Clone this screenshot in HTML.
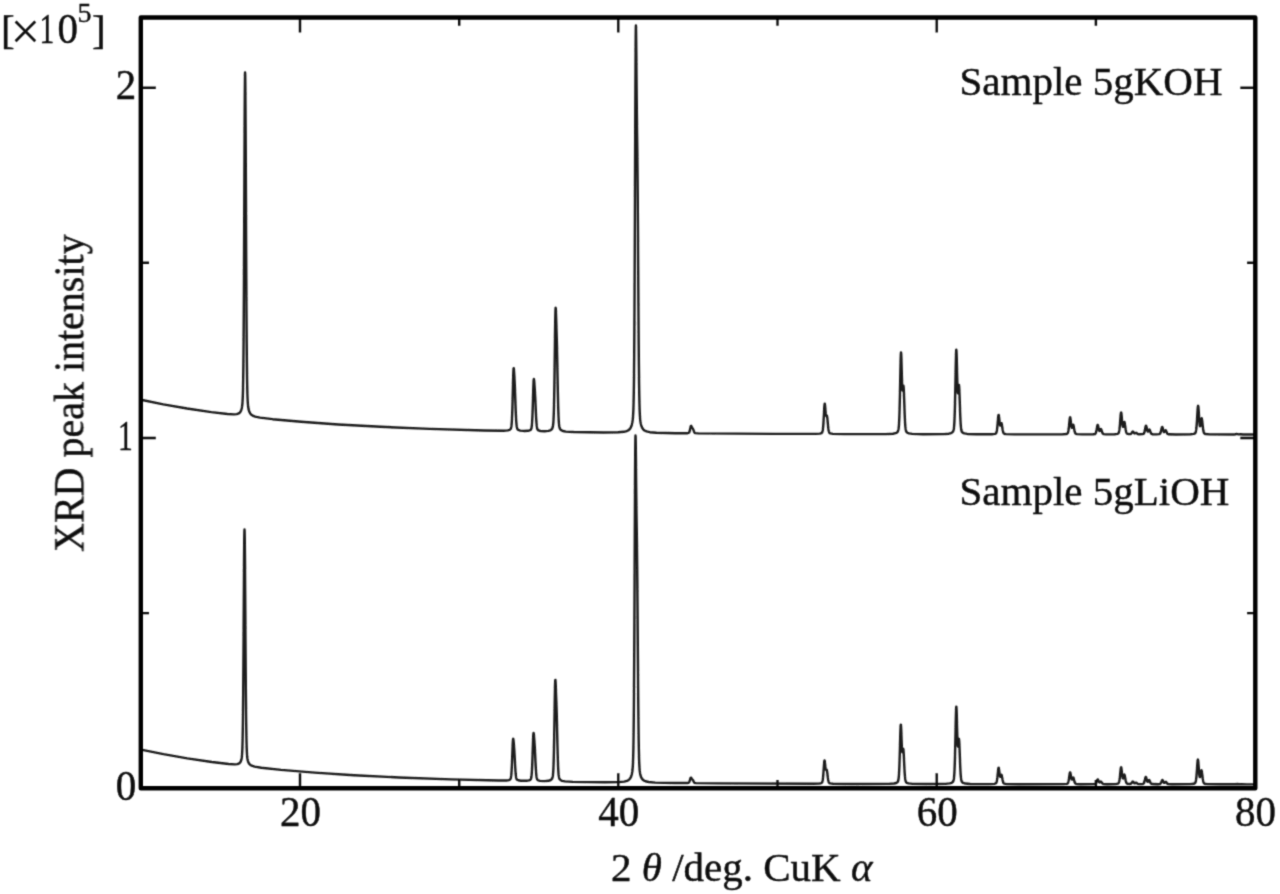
<!DOCTYPE html>
<html><head><meta charset="utf-8"><title>XRD peak intensity</title>
<style>
html,body{margin:0;padding:0;background:#fff;}
body{width:1280px;height:894px;overflow:hidden;}
svg{display:block;}
#w{width:1280px;height:894px;}
text{font-family:"Liberation Serif","Times New Roman",serif;fill:#0a0a0a;stroke:#0a0a0a;stroke-width:0.35px;}
</style></head><body><div id="w">
<svg width="1280" height="894" viewBox="0 0 1280 894">
<defs><filter id="bl" filterUnits="userSpaceOnUse" x="0" y="0" width="1280" height="894"><feConvolveMatrix order="3" kernelMatrix="0.0277 0.1110 0.0277 0.1110 0.4452 0.1110 0.0277 0.1110 0.0277" divisor="1" edgeMode="none"/></filter></defs>
<rect x="0" y="0" width="1280" height="894" fill="#fff"/>
<g filter="url(#bl)">
<g fill="none" stroke="#1a1a1a" stroke-width="2.4" stroke-linejoin="round" stroke-linecap="round">
<path d="M141.00,399.79 L163.30,404.31 L187.10,408.48 L211.30,412.09 L227.50,414.03 L233.90,414.38 L236.90,414.11 L238.70,413.46 L239.80,412.59 L240.60,411.48 L241.20,410.14 L241.60,408.84 L241.90,407.48 L242.10,406.26 L242.30,404.62 L242.40,403.55 L242.50,402.25 L242.60,400.66 L242.70,398.68 L242.80,396.21 L242.90,393.12 L243.00,389.26 L243.10,384.47 L243.20,378.55 L243.30,371.31 L243.40,362.56 L243.50,352.09 L243.60,339.76 L243.70,325.45 L243.80,309.09 L243.90,290.71 L244.00,270.43 L244.10,248.46 L244.20,225.17 L244.30,201.04 L244.40,176.72 L244.50,153.00 L244.60,130.77 L244.70,111.02 L244.80,94.68 L244.90,82.53 L245.00,75.07 L245.10,72.50 L245.20,74.73 L245.30,81.49 L245.40,92.38 L245.50,106.94 L245.60,124.63 L245.70,144.83 L245.80,166.81 L245.90,189.81 L246.00,213.09 L246.10,235.97 L246.20,257.92 L246.30,278.51 L246.40,297.46 L246.50,314.59 L246.60,329.82 L246.70,343.16 L246.80,354.69 L246.90,364.52 L247.00,372.79 L247.10,379.68 L247.20,385.36 L247.30,390.01 L247.40,393.79 L247.50,396.84 L247.60,399.31 L247.70,401.31 L247.80,402.93 L247.90,404.26 L248.00,405.36 L248.20,407.06 L248.50,408.85 L248.90,410.49 L249.40,411.91 L250.10,413.28 L251.10,414.51 L252.60,415.61 L255.10,416.60 L260.00,417.63 L272.60,419.18 L301.20,421.78 L338.20,424.44 L380.80,426.81 L429.90,428.86 L484.00,430.47 L503.50,430.73 L507.80,430.41 L509.60,429.84 L510.50,429.11 L510.90,428.39 L511.20,427.37 L511.40,426.23 L511.50,425.46 L511.60,424.51 L511.70,423.36 L511.80,421.98 L511.90,420.34 L512.00,418.40 L512.10,416.16 L512.20,413.59 L512.30,410.69 L512.40,407.47 L512.50,403.95 L512.60,400.18 L512.80,392.10 L513.00,383.91 L513.10,380.06 L513.20,376.57 L513.30,373.56 L513.40,371.16 L513.50,369.46 L513.60,368.48 L513.70,368.20 L513.80,368.53 L513.90,369.36 L514.00,370.57 L514.10,372.04 L514.30,375.43 L514.60,381.10 L514.80,385.43 L514.90,387.85 L515.10,393.22 L515.50,404.86 L515.70,410.30 L515.80,412.79 L515.90,415.08 L516.00,417.17 L516.10,419.05 L516.20,420.72 L516.30,422.18 L516.40,423.45 L516.50,424.54 L516.70,426.23 L516.90,427.41 L517.20,428.51 L517.60,429.28 L518.40,429.97 L520.10,430.57 L523.80,430.93 L527.90,430.80 L529.80,430.33 L530.70,429.71 L531.10,429.11 L531.40,428.24 L531.60,427.27 L531.80,425.81 L531.90,424.83 L532.00,423.66 L532.10,422.27 L532.20,420.64 L532.30,418.74 L532.40,416.58 L532.50,414.14 L532.60,411.44 L532.70,408.49 L532.80,405.34 L533.20,391.82 L533.30,388.65 L533.40,385.78 L533.50,383.32 L533.60,381.38 L533.70,380.02 L533.80,379.27 L533.90,379.10 L534.00,379.43 L534.10,380.18 L534.20,381.23 L534.40,383.85 L534.80,389.75 L535.00,393.02 L535.20,396.82 L535.40,401.19 L535.80,410.61 L536.00,414.98 L536.20,418.78 L536.30,420.44 L536.40,421.93 L536.50,423.25 L536.70,425.40 L536.90,426.96 L537.10,428.07 L537.40,429.10 L537.80,429.82 L538.60,430.44 L540.50,430.98 L544.60,431.21 L548.40,430.90 L550.30,430.31 L551.50,429.45 L552.20,428.49 L552.60,427.54 L552.90,426.34 L553.10,425.06 L553.20,424.20 L553.30,423.14 L553.40,421.84 L553.50,420.24 L553.60,418.28 L553.70,415.92 L553.80,413.08 L553.90,409.72 L554.00,405.77 L554.10,401.21 L554.20,396.01 L554.30,390.16 L554.40,383.70 L554.50,376.66 L554.60,369.14 L554.70,361.25 L554.90,345.03 L555.00,337.11 L555.10,329.65 L555.20,322.92 L555.30,317.21 L555.40,312.74 L555.50,309.67 L555.60,308.05 L555.70,307.80 L555.80,308.76 L555.90,310.67 L556.00,313.29 L556.10,316.35 L556.70,336.53 L556.80,340.09 L556.90,343.92 L557.00,348.10 L557.10,352.65 L557.20,357.57 L557.30,362.78 L557.60,379.15 L557.70,384.50 L557.80,389.64 L557.90,394.50 L558.00,399.03 L558.10,403.20 L558.20,406.98 L558.30,410.36 L558.40,413.34 L558.50,415.94 L558.60,418.19 L558.70,420.10 L558.80,421.71 L558.90,423.06 L559.00,424.18 L559.10,425.10 L559.30,426.50 L559.50,427.45 L559.80,428.38 L560.30,429.29 L561.20,430.19 L562.80,430.99 L565.80,431.59 L573.80,432.06 L603.60,432.48 L618.20,432.31 L623.80,431.81 L626.80,431.06 L628.60,430.12 L629.80,429.00 L630.70,427.65 L631.30,426.31 L631.80,424.76 L632.20,423.07 L632.50,421.37 L632.70,419.90 L632.90,417.99 L633.00,416.79 L633.10,415.36 L633.20,413.65 L633.30,411.57 L633.40,409.03 L633.50,405.92 L633.60,402.09 L633.70,397.41 L633.80,391.68 L633.90,384.74 L634.00,376.38 L634.10,366.42 L634.20,354.67 L634.30,341.00 L634.40,325.28 L634.50,307.47 L634.60,287.59 L634.70,265.74 L634.80,242.13 L634.90,217.06 L635.00,190.95 L635.10,164.35 L635.20,137.92 L635.30,112.41 L635.40,88.69 L635.50,67.67 L635.60,50.25 L635.70,37.15 L635.80,28.86 L635.90,25.50 L636.00,26.78 L636.10,32.06 L636.20,40.46 L636.30,51.04 L636.40,62.84 L636.50,75.05 L636.60,87.02 L636.70,98.28 L636.80,108.58 L636.90,117.83 L637.00,126.17 L637.10,133.88 L637.20,141.39 L637.30,149.21 L637.40,157.84 L637.50,167.70 L637.60,179.05 L637.70,191.94 L637.80,206.24 L637.90,221.66 L638.00,237.86 L638.20,271.05 L638.30,287.35 L638.40,303.05 L638.50,317.94 L638.60,331.83 L638.70,344.60 L638.80,356.17 L638.90,366.50 L639.00,375.61 L639.10,383.54 L639.20,390.37 L639.30,396.18 L639.40,401.07 L639.50,405.17 L639.60,408.57 L639.70,411.38 L639.80,413.70 L639.90,415.62 L640.00,417.20 L640.10,418.52 L640.20,419.63 L640.40,421.38 L640.70,423.26 L641.10,425.00 L641.60,426.55 L642.30,428.06 L643.20,429.34 L644.50,430.47 L646.50,431.44 L649.80,432.19 L656.40,432.78 L675.10,433.23 L687.20,433.21 L688.60,432.93 L689.10,432.45 L689.50,431.61 L689.90,430.18 L690.60,426.89 L690.90,425.97 L691.10,425.80 L691.40,426.16 L692.10,427.75 L692.90,428.68 L693.40,429.91 L694.10,431.84 L694.60,432.67 L695.30,433.13 L698.50,433.41 L775.20,433.92 L815.50,433.92 L819.90,433.60 L821.50,433.08 L822.10,432.46 L822.40,431.76 L822.60,431.01 L822.80,429.92 L823.00,428.37 L823.20,426.29 L823.40,423.61 L823.60,420.36 L823.90,414.71 L824.10,410.83 L824.20,409.02 L824.30,407.37 L824.40,405.96 L824.50,404.84 L824.60,404.08 L824.70,403.70 L824.80,403.72 L824.90,404.11 L825.00,404.83 L825.10,405.81 L825.30,408.25 L825.60,412.03 L825.70,413.10 L825.80,414.00 L825.90,414.72 L826.00,415.26 L826.10,415.62 L826.30,415.86 L826.70,415.51 L826.90,415.67 L827.00,415.99 L827.10,416.47 L827.30,417.94 L827.50,419.91 L828.00,425.43 L828.30,428.21 L828.50,429.67 L828.80,431.23 L829.10,432.20 L829.50,432.89 L830.30,433.41 L832.90,433.85 L844.10,434.11 L886.00,434.09 L893.00,433.74 L895.60,433.19 L897.00,432.43 L897.70,431.65 L898.10,430.81 L898.40,429.70 L898.60,428.51 L898.70,427.71 L898.80,426.75 L898.90,425.58 L899.00,424.17 L899.10,422.49 L899.20,420.51 L899.30,418.19 L899.40,415.51 L899.50,412.44 L899.60,408.98 L899.70,405.12 L899.80,400.88 L899.90,396.31 L900.00,391.44 L900.20,381.16 L900.40,370.89 L900.50,366.10 L900.60,361.79 L900.70,358.11 L900.80,355.25 L900.90,353.35 L901.00,352.50 L901.10,352.72 L901.20,353.97 L901.30,356.11 L901.40,359.00 L901.50,362.43 L901.70,370.09 L901.80,373.96 L901.90,377.63 L902.00,380.98 L902.10,383.90 L902.20,386.33 L902.30,388.21 L902.40,389.54 L902.50,390.32 L902.60,390.59 L902.70,390.42 L902.80,389.89 L903.00,388.18 L903.20,386.47 L903.30,385.94 L903.40,385.80 L903.50,386.12 L903.60,386.95 L903.70,388.29 L903.80,390.11 L903.90,392.33 L904.00,394.87 L904.20,400.55 L904.50,409.35 L904.60,412.10 L904.70,414.69 L904.80,417.08 L904.90,419.26 L905.00,421.21 L905.10,422.95 L905.20,424.47 L905.30,425.79 L905.40,426.92 L905.60,428.69 L905.80,429.93 L906.10,431.10 L906.50,431.95 L907.30,432.73 L908.90,433.41 L912.30,433.91 L923.10,434.20 L943.60,434.10 L948.90,433.71 L951.20,433.09 L952.40,432.33 L953.00,431.59 L953.40,430.70 L953.70,429.49 L953.90,428.20 L954.00,427.35 L954.10,426.31 L954.20,425.06 L954.30,423.56 L954.40,421.77 L954.50,419.67 L954.60,417.22 L954.70,414.39 L954.80,411.17 L954.90,407.55 L955.00,403.53 L955.10,399.13 L955.20,394.39 L955.30,389.36 L955.60,373.45 L955.70,368.26 L955.80,363.39 L955.90,359.01 L956.00,355.29 L956.10,352.42 L956.20,350.54 L956.30,349.75 L956.40,350.07 L956.50,351.45 L956.60,353.78 L956.70,356.89 L956.80,360.59 L956.90,364.67 L957.10,373.21 L957.20,377.32 L957.30,381.13 L957.40,384.53 L957.50,387.44 L957.60,389.78 L957.70,391.53 L957.80,392.69 L957.90,393.26 L958.00,393.30 L958.10,392.85 L958.20,392.02 L958.30,390.89 L958.60,386.94 L958.70,385.88 L958.80,385.17 L958.90,384.90 L959.00,385.15 L959.10,385.96 L959.20,387.31 L959.30,389.16 L959.40,391.43 L959.50,394.03 L959.70,399.84 L960.00,408.81 L960.10,411.62 L960.20,414.25 L960.30,416.69 L960.40,418.92 L960.50,420.92 L960.60,422.70 L960.70,424.26 L960.80,425.61 L960.90,426.77 L961.10,428.59 L961.30,429.87 L961.60,431.09 L962.00,431.96 L962.70,432.70 L964.20,433.41 L967.30,433.94 L976.40,434.26 L991.90,434.20 L995.00,433.85 L995.80,433.46 L996.20,432.94 L996.50,432.20 L996.80,430.93 L997.00,429.70 L997.20,428.11 L997.40,426.16 L997.70,422.71 L998.10,417.98 L998.30,416.14 L998.40,415.49 L998.50,415.07 L998.60,414.90 L998.70,414.98 L998.80,415.31 L998.90,415.86 L999.10,417.47 L999.60,422.40 L999.80,423.99 L1000.00,425.08 L1000.20,425.61 L1000.40,425.63 L1000.60,425.21 L1001.10,423.50 L1001.30,423.12 L1001.50,423.21 L1001.70,423.81 L1002.00,425.46 L1002.60,429.46 L1002.90,431.07 L1003.20,432.22 L1003.60,433.15 L1004.20,433.75 L1005.90,434.13 L1014.40,434.38 L1062.00,434.36 L1066.20,434.05 L1067.30,433.62 L1067.80,432.96 L1068.10,432.14 L1068.40,430.79 L1068.70,428.78 L1069.00,426.10 L1069.60,419.92 L1069.80,418.34 L1069.90,417.79 L1070.00,417.44 L1070.10,417.30 L1070.20,417.39 L1070.30,417.69 L1070.40,418.18 L1070.60,419.62 L1071.10,424.19 L1071.30,425.75 L1071.50,426.92 L1071.70,427.62 L1071.90,427.84 L1072.10,427.63 L1072.40,426.73 L1072.80,425.20 L1073.00,424.72 L1073.20,424.63 L1073.40,425.00 L1073.60,425.78 L1074.10,428.61 L1074.50,430.79 L1074.80,432.02 L1075.20,433.08 L1075.70,433.72 L1076.80,434.12 L1082.20,434.39 L1093.20,434.28 L1094.90,433.99 L1095.50,433.48 L1095.90,432.68 L1096.20,431.68 L1096.60,429.77 L1097.20,426.34 L1097.40,425.47 L1097.60,424.97 L1097.80,424.95 L1098.00,425.39 L1098.30,426.69 L1098.80,429.25 L1099.10,430.37 L1099.40,430.93 L1099.70,430.91 L1100.10,430.23 L1100.60,429.17 L1100.90,428.99 L1101.20,429.38 L1101.70,430.85 L1102.30,432.64 L1102.80,433.56 L1103.50,434.08 L1106.00,434.34 L1114.70,434.25 L1117.40,433.88 L1118.20,433.47 L1118.60,432.94 L1118.90,432.19 L1119.20,430.91 L1119.40,429.66 L1119.60,428.03 L1119.80,426.01 L1120.10,422.33 L1120.50,417.00 L1120.70,414.71 L1120.80,413.80 L1120.90,413.11 L1121.00,412.67 L1121.10,412.50 L1121.20,412.62 L1121.30,413.00 L1121.40,413.64 L1121.50,414.48 L1121.70,416.63 L1122.10,421.48 L1122.30,423.60 L1122.50,425.27 L1122.70,426.37 L1122.90,426.87 L1123.10,426.80 L1123.30,426.24 L1123.60,424.79 L1124.00,422.69 L1124.20,422.05 L1124.40,421.94 L1124.60,422.42 L1124.80,423.42 L1125.20,426.25 L1125.60,429.13 L1125.90,430.85 L1126.20,432.09 L1126.50,432.90 L1127.00,433.58 L1128.00,433.99 L1130.20,434.10 L1131.00,433.77 L1131.70,432.92 L1132.50,431.66 L1132.90,431.52 L1133.40,432.05 L1134.20,433.20 L1134.70,433.44 L1135.50,433.03 L1136.10,432.77 L1136.70,433.09 L1137.80,434.02 L1139.10,434.30 L1142.70,434.16 L1143.60,433.76 L1144.10,433.02 L1144.50,431.87 L1144.90,430.11 L1145.50,427.00 L1145.70,426.21 L1145.90,425.76 L1146.10,425.75 L1146.30,426.16 L1146.60,427.35 L1147.20,430.18 L1147.50,431.14 L1147.80,431.59 L1148.10,431.53 L1148.50,430.87 L1149.10,429.63 L1149.40,429.48 L1149.70,429.85 L1150.30,431.50 L1150.90,433.03 L1151.40,433.76 L1152.20,434.18 L1156.20,434.36 L1159.20,434.15 L1159.90,433.79 L1160.40,433.04 L1160.80,431.92 L1161.30,429.86 L1161.80,427.74 L1162.00,427.20 L1162.20,427.00 L1162.40,427.17 L1162.70,428.02 L1163.40,430.84 L1163.70,431.69 L1164.00,432.11 L1164.30,432.10 L1164.70,431.56 L1165.30,430.45 L1165.60,430.23 L1165.90,430.46 L1166.40,431.54 L1167.10,433.15 L1167.70,433.92 L1168.60,434.28 L1175.80,434.47 L1190.60,434.31 L1193.80,433.92 L1194.90,433.46 L1195.40,432.87 L1195.70,432.16 L1196.00,430.93 L1196.20,429.68 L1196.40,428.01 L1196.60,425.85 L1196.80,423.19 L1197.00,420.08 L1197.50,411.53 L1197.60,409.98 L1197.70,408.59 L1197.80,407.44 L1197.90,406.56 L1198.00,406.00 L1198.10,405.80 L1198.20,405.96 L1198.30,406.46 L1198.40,407.29 L1198.50,408.39 L1198.60,409.71 L1198.80,412.78 L1199.20,419.22 L1199.40,421.94 L1199.50,423.09 L1199.60,424.07 L1199.70,424.88 L1199.80,425.51 L1199.90,425.95 L1200.00,426.21 L1200.10,426.30 L1200.30,425.99 L1200.50,425.11 L1200.80,423.04 L1201.20,419.92 L1201.40,418.77 L1201.50,418.41 L1201.60,418.23 L1201.70,418.23 L1201.80,418.44 L1201.90,418.82 L1202.10,420.08 L1202.40,422.74 L1202.80,426.57 L1203.10,429.02 L1203.40,430.87 L1203.70,432.13 L1204.00,432.91 L1204.50,433.57 L1205.60,434.02 L1209.60,434.38 L1233.80,434.51 L1235.40,434.22 L1236.60,433.90 L1238.50,434.38 L1240.60,434.22 L1243.00,434.53 L1253.00,434.56"/>
<path d="M141.00,749.59 L163.40,754.14 L187.30,758.32 L211.90,762.00 L228.70,764.03 L234.80,764.36 L237.50,764.07 L239.00,763.47 L240.00,762.60 L240.70,761.51 L241.20,760.24 L241.50,759.06 L241.70,757.94 L241.90,756.32 L242.00,755.23 L242.10,753.87 L242.20,752.17 L242.30,750.05 L242.40,747.41 L242.50,744.11 L242.60,740.05 L242.70,735.07 L242.80,729.05 L242.90,721.85 L243.00,713.37 L243.10,703.53 L243.20,692.27 L243.30,679.63 L243.40,665.67 L243.50,650.56 L243.60,634.53 L243.80,601.19 L243.90,584.86 L244.00,569.57 L244.10,555.98 L244.20,544.74 L244.30,536.38 L244.40,531.26 L244.50,529.50 L244.60,531.05 L244.70,535.72 L244.80,543.24 L244.90,553.28 L245.00,565.49 L245.10,579.41 L245.20,594.56 L245.30,610.40 L245.40,626.43 L245.50,642.19 L245.60,657.29 L245.70,671.46 L245.80,684.50 L245.90,696.27 L246.00,706.75 L246.10,715.92 L246.20,723.84 L246.30,730.60 L246.40,736.28 L246.50,741.01 L246.60,744.92 L246.70,748.11 L246.80,750.70 L246.90,752.80 L247.00,754.50 L247.10,755.87 L247.20,756.99 L247.40,758.66 L247.60,759.84 L247.90,761.08 L248.40,762.44 L249.10,763.67 L250.10,764.75 L251.70,765.73 L254.60,766.66 L261.30,767.76 L281.10,769.85 L314.60,772.62 L353.90,775.19 L398.90,777.45 L451.00,779.37 L498.30,780.57 L506.60,780.48 L509.00,780.08 L510.00,779.56 L510.50,778.90 L510.80,778.06 L511.00,777.12 L511.20,775.72 L511.30,774.80 L511.40,773.70 L511.50,772.40 L511.60,770.90 L511.70,769.18 L511.80,767.24 L511.90,765.09 L512.00,762.73 L512.20,757.55 L512.50,749.32 L512.60,746.75 L512.70,744.40 L512.80,742.39 L512.90,740.79 L513.00,739.65 L513.10,738.99 L513.20,738.80 L513.30,739.02 L513.40,739.58 L513.50,740.38 L513.70,742.47 L514.00,746.12 L514.20,748.84 L514.40,751.98 L514.60,755.58 L515.10,765.25 L515.30,768.68 L515.50,771.62 L515.70,773.99 L515.90,775.82 L516.10,777.16 L516.30,778.10 L516.60,779.00 L517.10,779.71 L518.20,780.28 L521.00,780.73 L526.40,780.79 L529.00,780.42 L530.20,779.86 L530.70,779.30 L531.00,778.64 L531.20,777.92 L531.40,776.82 L531.60,775.18 L531.70,774.10 L531.80,772.82 L531.90,771.31 L532.00,769.57 L532.10,767.57 L532.20,765.32 L532.30,762.83 L532.40,760.12 L532.60,754.15 L532.90,744.74 L533.00,741.81 L533.10,739.16 L533.20,736.90 L533.30,735.11 L533.40,733.85 L533.50,733.16 L533.60,733.00 L533.70,733.31 L533.80,733.99 L533.90,734.96 L534.10,737.38 L534.50,742.82 L534.70,745.85 L534.90,749.35 L535.10,753.39 L535.50,762.09 L535.70,766.11 L535.90,769.62 L536.10,772.52 L536.30,774.80 L536.50,776.49 L536.70,777.71 L537.00,778.87 L537.40,779.66 L538.20,780.31 L540.10,780.85 L544.40,781.10 L548.40,780.82 L550.30,780.26 L551.40,779.50 L552.10,778.56 L552.50,777.53 L552.70,776.67 L552.90,775.39 L553.00,774.52 L553.10,773.45 L553.20,772.14 L553.30,770.53 L553.40,768.60 L553.50,766.27 L553.60,763.51 L553.70,760.28 L553.80,756.54 L553.90,752.27 L554.00,747.47 L554.10,742.17 L554.20,736.40 L554.30,730.23 L554.40,723.76 L554.60,710.45 L554.70,703.95 L554.80,697.83 L554.90,692.31 L555.00,687.62 L555.10,683.96 L555.20,681.44 L555.30,680.10 L555.40,679.90 L555.50,680.68 L555.60,682.25 L555.70,684.40 L555.80,686.91 L556.40,703.47 L556.50,706.40 L556.60,709.55 L556.70,712.98 L556.80,716.72 L556.90,720.76 L557.00,725.04 L557.40,742.87 L557.50,747.08 L557.60,751.07 L557.70,754.79 L557.80,758.20 L557.90,761.30 L558.00,764.07 L558.10,766.52 L558.20,768.65 L558.30,770.48 L558.40,772.05 L558.50,773.37 L558.60,774.48 L558.80,776.15 L559.00,777.29 L559.30,778.37 L559.70,779.18 L560.50,780.05 L562.00,780.83 L564.90,781.42 L572.90,781.87 L604.80,782.31 L618.90,782.14 L624.20,781.65 L627.00,780.92 L628.70,780.00 L629.80,778.94 L630.60,777.71 L631.20,776.35 L631.70,774.73 L632.00,773.42 L632.30,771.64 L632.50,770.01 L632.60,768.98 L632.70,767.77 L632.80,766.31 L632.90,764.54 L633.00,762.37 L633.10,759.72 L633.20,756.46 L633.30,752.47 L633.40,747.60 L633.50,741.68 L633.60,734.56 L633.70,726.07 L633.80,716.06 L633.90,704.41 L634.00,691.02 L634.10,675.84 L634.20,658.90 L634.30,640.28 L634.40,620.16 L634.50,598.80 L634.60,576.55 L634.80,531.35 L634.90,509.60 L635.00,489.39 L635.10,471.47 L635.20,456.61 L635.30,445.44 L635.40,438.37 L635.50,435.50 L635.60,436.58 L635.70,441.07 L635.80,448.23 L635.90,457.23 L636.00,467.28 L636.10,477.68 L636.20,487.87 L636.30,497.47 L636.40,506.24 L636.50,514.13 L636.60,521.25 L636.70,527.83 L636.80,534.25 L636.90,540.93 L637.00,548.31 L637.10,556.74 L637.20,566.44 L637.30,577.46 L637.40,589.67 L637.50,602.83 L637.60,616.65 L637.80,644.95 L637.90,658.83 L638.00,672.22 L638.10,684.90 L638.20,696.73 L638.30,707.60 L638.40,717.44 L638.50,726.24 L638.60,733.99 L638.70,740.74 L638.80,746.54 L638.90,751.48 L639.00,755.64 L639.10,759.13 L639.20,762.02 L639.30,764.41 L639.40,766.38 L639.50,768.01 L639.60,769.36 L639.70,770.48 L639.90,772.23 L640.10,773.51 L640.40,774.93 L640.90,776.58 L641.50,777.93 L642.40,779.26 L643.60,780.35 L645.50,781.29 L648.70,782.03 L655.20,782.60 L674.70,783.05 L687.40,783.04 L688.60,782.76 L689.10,782.25 L689.50,781.41 L690.00,779.79 L690.50,778.12 L690.80,777.63 L691.10,777.73 L691.90,779.04 L692.80,779.87 L694.00,782.23 L694.60,782.83 L695.90,783.13 L717.60,783.42 L813.30,783.79 L819.60,783.53 L821.30,783.12 L821.90,782.64 L822.30,781.84 L822.60,780.68 L822.80,779.49 L823.00,777.89 L823.20,775.83 L823.40,773.32 L823.80,767.47 L824.00,764.60 L824.10,763.33 L824.20,762.24 L824.30,761.38 L824.40,760.79 L824.50,760.50 L824.60,760.51 L824.70,760.82 L824.80,761.37 L825.00,763.02 L825.40,766.91 L825.60,768.43 L825.80,769.40 L826.00,769.82 L826.30,769.74 L826.60,769.60 L826.80,769.96 L827.00,770.84 L827.20,772.19 L827.90,778.01 L828.20,779.97 L828.50,781.36 L828.80,782.24 L829.20,782.88 L830.00,783.34 L833.00,783.73 L851.90,783.95 L888.60,783.89 L894.20,783.52 L896.30,782.98 L897.40,782.27 L897.90,781.56 L898.20,780.75 L898.40,779.88 L898.60,778.60 L898.70,777.75 L898.80,776.73 L898.90,775.51 L899.00,774.07 L899.10,772.38 L899.20,770.43 L899.30,768.20 L899.40,765.68 L899.50,762.87 L899.60,759.79 L899.70,756.46 L899.90,749.23 L900.20,737.97 L900.30,734.50 L900.40,731.36 L900.50,728.68 L900.60,726.60 L900.70,725.22 L900.80,724.60 L900.90,724.76 L901.00,725.67 L901.10,727.23 L901.20,729.33 L901.30,731.82 L901.60,740.20 L901.70,742.87 L901.80,745.31 L901.90,747.43 L902.00,749.20 L902.10,750.57 L902.20,751.53 L902.30,752.10 L902.40,752.29 L902.50,752.17 L902.60,751.78 L903.00,749.30 L903.10,748.92 L903.20,748.82 L903.30,749.05 L903.40,749.66 L903.50,750.64 L903.60,751.96 L903.70,753.58 L903.80,755.43 L904.00,759.57 L904.30,765.97 L904.50,769.85 L904.70,773.17 L904.80,774.59 L905.00,776.96 L905.20,778.74 L905.40,780.02 L905.70,781.26 L906.10,782.13 L906.80,782.80 L908.50,783.41 L912.60,783.84 L929.90,784.05 L945.60,783.85 L949.80,783.41 L951.70,782.77 L952.70,782.01 L953.20,781.28 L953.50,780.50 L953.70,779.70 L953.90,778.52 L954.00,777.74 L954.10,776.78 L954.20,775.64 L954.30,774.26 L954.40,772.63 L954.50,770.70 L954.60,768.45 L954.70,765.86 L954.80,762.91 L954.90,759.59 L955.00,755.90 L955.10,751.87 L955.20,747.52 L955.30,742.92 L955.60,728.33 L955.70,723.57 L955.80,719.10 L955.90,715.09 L956.00,711.68 L956.10,709.05 L956.20,707.33 L956.30,706.60 L956.40,706.89 L956.50,708.16 L956.60,710.29 L956.70,713.15 L956.80,716.54 L956.90,720.28 L957.10,728.11 L957.20,731.88 L957.30,735.37 L957.40,738.49 L957.50,741.15 L957.60,743.30 L957.70,744.90 L957.80,745.96 L957.90,746.49 L958.00,746.52 L958.10,746.12 L958.20,745.35 L958.30,744.31 L958.60,740.70 L958.70,739.72 L958.80,739.07 L958.90,738.82 L959.00,739.05 L959.10,739.80 L959.20,741.04 L959.30,742.73 L959.40,744.81 L959.50,747.20 L959.70,752.52 L960.00,760.75 L960.20,765.73 L960.30,767.97 L960.40,770.01 L960.50,771.85 L960.60,773.48 L960.70,774.90 L960.80,776.14 L961.00,778.11 L961.20,779.52 L961.40,780.49 L961.70,781.42 L962.20,782.22 L963.20,782.93 L965.30,783.54 L970.40,783.95 L988.80,784.10 L994.40,783.84 L995.70,783.47 L996.20,782.97 L996.50,782.34 L996.80,781.27 L997.10,779.59 L997.40,777.23 L997.80,773.28 L998.10,770.30 L998.30,768.75 L998.40,768.20 L998.50,767.84 L998.60,767.70 L998.70,767.77 L998.80,768.05 L999.00,769.14 L999.30,771.55 L999.60,774.05 L999.80,775.39 L1000.00,776.31 L1000.20,776.77 L1000.40,776.78 L1000.70,776.16 L1001.10,774.98 L1001.30,774.66 L1001.50,774.74 L1001.70,775.24 L1002.00,776.64 L1002.60,780.03 L1002.90,781.39 L1003.20,782.36 L1003.60,783.15 L1004.20,783.65 L1006.20,784.00 L1019.10,784.21 L1063.60,784.16 L1066.90,783.85 L1067.60,783.46 L1068.00,782.87 L1068.30,782.07 L1068.60,780.83 L1068.90,779.11 L1069.60,774.13 L1069.80,773.03 L1070.00,772.40 L1070.20,772.36 L1070.40,772.91 L1070.60,773.92 L1071.20,777.68 L1071.50,779.01 L1071.70,779.50 L1072.00,779.62 L1072.30,779.13 L1072.90,777.61 L1073.20,777.41 L1073.50,777.91 L1073.90,779.36 L1074.50,781.71 L1074.90,782.79 L1075.40,783.53 L1076.20,783.94 L1080.50,784.20 L1094.00,784.14 L1095.30,783.89 L1095.90,783.37 L1096.40,782.41 L1097.30,779.89 L1097.60,779.44 L1097.90,779.51 L1098.30,780.31 L1098.90,781.84 L1099.30,782.41 L1099.70,782.47 L1100.70,781.52 L1101.10,781.59 L1101.80,782.60 L1102.50,783.57 L1103.30,784.03 L1107.10,784.22 L1115.90,784.04 L1117.90,783.67 L1118.50,783.23 L1118.90,782.52 L1119.20,781.53 L1119.50,779.97 L1119.80,777.74 L1120.10,774.90 L1120.50,770.78 L1120.70,769.01 L1120.80,768.30 L1120.90,767.77 L1121.00,767.43 L1121.10,767.30 L1121.20,767.39 L1121.30,767.69 L1121.40,768.18 L1121.60,769.61 L1122.20,775.10 L1122.40,776.58 L1122.60,777.65 L1122.80,778.27 L1123.00,778.43 L1123.20,778.18 L1123.50,777.22 L1124.00,775.17 L1124.20,774.68 L1124.40,774.59 L1124.60,774.97 L1124.90,776.23 L1125.60,780.15 L1125.90,781.48 L1126.30,782.68 L1126.80,783.44 L1127.70,783.85 L1130.10,783.98 L1131.00,783.65 L1131.70,782.85 L1132.50,781.65 L1132.90,781.52 L1133.40,782.02 L1134.20,783.10 L1134.70,783.32 L1135.50,782.94 L1136.10,782.69 L1136.70,783.00 L1137.80,783.87 L1139.10,784.13 L1142.70,783.98 L1143.50,783.60 L1144.00,782.87 L1144.40,781.77 L1144.90,779.73 L1145.40,777.63 L1145.70,776.95 L1145.90,776.94 L1146.20,777.57 L1147.00,780.67 L1147.30,781.48 L1147.60,781.86 L1147.90,781.81 L1148.40,781.06 L1148.90,780.21 L1149.20,780.09 L1149.50,780.40 L1150.60,782.91 L1151.20,783.69 L1152.10,784.06 L1157.70,784.20 L1159.90,783.98 L1160.60,783.47 L1161.10,782.62 L1162.00,780.42 L1162.30,780.03 L1162.60,780.10 L1163.00,780.81 L1163.70,782.39 L1164.10,782.88 L1164.60,782.88 L1165.70,781.87 L1166.10,781.99 L1167.40,783.63 L1168.20,784.08 L1172.10,784.27 L1190.30,784.15 L1193.70,783.79 L1194.80,783.34 L1195.30,782.74 L1195.60,782.00 L1195.90,780.74 L1196.10,779.49 L1196.30,777.84 L1196.50,775.77 L1196.70,773.28 L1197.00,768.96 L1197.30,764.53 L1197.50,762.01 L1197.60,761.01 L1197.70,760.25 L1197.80,759.78 L1197.90,759.60 L1198.00,759.73 L1198.10,760.17 L1198.20,760.88 L1198.30,761.83 L1198.50,764.25 L1199.00,771.15 L1199.20,773.50 L1199.40,775.33 L1199.60,776.56 L1199.80,777.17 L1200.00,777.18 L1200.20,776.65 L1200.40,775.69 L1201.00,771.75 L1201.20,770.76 L1201.40,770.30 L1201.50,770.30 L1201.60,770.48 L1201.80,771.30 L1202.00,772.60 L1202.70,778.24 L1203.00,780.18 L1203.30,781.60 L1203.60,782.53 L1204.00,783.23 L1204.70,783.72 L1207.20,784.10 L1220.40,784.32 L1235.40,784.26 L1237.30,784.02 L1239.40,784.25 L1241.50,784.21 L1246.90,784.35 L1253.00,784.36"/>
</g>
<path d="M300.0,788.3L300.0,773.3 M300.0,17.5L300.0,32.5 M618.3,788.3L618.3,773.3 M618.3,17.5L618.3,32.5 M936.7,788.3L936.7,773.3 M936.7,17.5L936.7,32.5 M459.2,788.3L459.2,780.1 M459.2,17.5L459.2,25.7 M777.5,788.3L777.5,780.1 M777.5,17.5L777.5,25.7 M1095.9,788.3L1095.9,780.1 M1095.9,17.5L1095.9,25.7 M140.8,438.0L155.8,438.0 M1255.3,438.0L1240.3,438.0 M140.8,87.7L155.8,87.7 M1255.3,87.7L1240.3,87.7 M140.8,613.1L149.0,613.1 M1255.3,613.1L1247.1,613.1 M140.8,262.8L149.0,262.8 M1255.3,262.8L1247.1,262.8" stroke="#111" stroke-width="2.4" fill="none"/>
<rect x="140.8" y="17.5" width="1114.5" height="770.8" fill="none" stroke="#000" stroke-width="4.4" stroke-linejoin="round"/>
<g font-size="41">
<text transform="translate(0.9,44.4) scale(1.0,0.98)">[</text>
<text transform="translate(10.4,48.9) scale(1.0,1.0)" font-size="52.8" style="stroke-width:0">×</text>
<text transform="translate(39.5,42.5) scale(0.72,1.02)">1</text>
<text transform="translate(57.4,42.5) scale(1.0,1.035)">0</text>
<text transform="translate(77.6,21.8) scale(1.0,1.0)" font-size="28">5</text>
<text transform="translate(92,44.4) scale(1.0,0.98)">]</text>
<text transform="translate(136.3,99.4) scale(1.0,1.035)" text-anchor="end">2</text>
<text transform="translate(117.9,449.6) scale(0.72,1.02)">1</text>
<text transform="translate(136.3,800.4) scale(1.0,1.035)" text-anchor="end">0</text>
<text transform="translate(300.5,825.6) scale(1.0,1.035)" text-anchor="middle">20</text>
<text transform="translate(618.8,825.6) scale(1.0,1.035)" text-anchor="middle">40</text>
<text transform="translate(937.2,825.6) scale(1.0,1.035)" text-anchor="middle">60</text>
<text transform="translate(1255.6,825.6) scale(1.0,1.035)" text-anchor="middle">80</text>
<text transform="translate(959.5,95) scale(1.0,1.0)">Sample 5gKOH</text>
<text transform="translate(959.5,504.5) scale(1.0,1.0)">Sample 5gLiOH</text>
<text transform="translate(83.6,552) rotate(-90) scale(1,1.06)" font-size="40">XRD peak intensity</text>
<text transform="translate(611,881) scale(1.0,1.0)">2 <tspan font-style="italic">θ</tspan> /deg. CuK <tspan font-style="italic">α</tspan></text>
</g>
</g>
</svg></div>
</body></html>
